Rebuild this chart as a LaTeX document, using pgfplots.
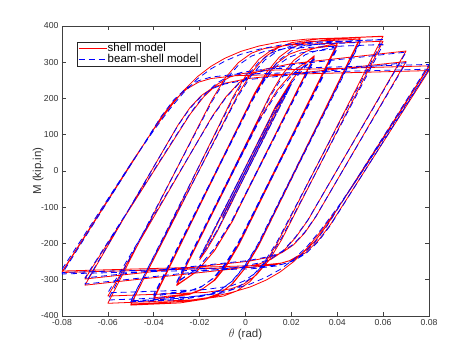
\documentclass[border=0pt]{standalone}
\usepackage{pgfplots}
\pgfplotsset{compat=1.18}
\usepackage{pgfplotstable}
\usepackage{fontspec}
\setmainfont{Liberation Sans}

% t = rotation (rad), s = shell model M, b = beam-shell model M (kip.in)
\pgfplotstableread{
t s b
0 0 0
0.01 128 125
-0.01 -128 -125
0.01 128 125
-0.01 -128 -125
0.0156 198 193
0.02 245 239
-0.0123 -167 -163
-0.0169 -217 -212
-0.02 -245 -239
0.0123 167 163
0.0169 217 212
0.02 245 239
-0.0123 -167 -163
-0.0169 -217 -212
-0.02 -245 -239
0.0131 178 174
0.0202 251 245
0.0273 304 296
0.03 318 310
-0.006 -141 -137
-0.0137 -221 -215
-0.0214 -278 -271
-0.03 -316 -308
0.006 142 138
0.0137 222 216
0.0214 279 272
0.03 315 307
-0.0058 -140 -137
-0.0135 -220 -214
-0.0212 -277 -270
-0.03 -314 -306
0.0108 211 206
0.0159 265 258
0.021 305 297
0.0261 329 321
0.0312 341 332
0.04 352 343
-0.0032 -203 -198
-0.0086 -261 -254
-0.014 -303 -295
-0.0193 -328 -320
-0.0247 -341 -332
-0.04 -354 -345
0.0029 198 193
0.0082 255 249
0.0136 297 290
0.019 322 314
0.0243 334 326
0.04 347 338
-0.0027 -202 -197
-0.008 -259 -253
-0.0133 -301 -293
-0.0187 -325 -317
-0.024 -338 -330
-0.04 -350 -341
0.0038 213 208
0.0092 272 265
0.0147 314 306
0.0202 340 332
0.0256 353 344
0.0366 363 354
0.05 368 359
0.0051 -210 -205
-0.0005 -270 -263
-0.0061 -313 -305
-0.0117 -340 -332
-0.0173 -353 -344
-0.0286 -364 -355
-0.05 -370 -361
-0.0054 205 200
0.0002 264 257
0.0058 308 300
0.0114 334 326
0.017 347 338
0.0281 357 348
0.05 364 355
0.0056 -208 -203
0.0 -267 -260
-0.0056 -311 -303
-0.0111 -337 -329
-0.0167 -350 -341
-0.0278 -360 -351
-0.05 -367 -358
-0.0033 211 206
0.0025 270 263
0.0084 314 306
0.0142 340 332
0.02 354 345
0.0317 364 355
0.06 372 363
0.0136 -202 -197
0.0078 -262 -255
0.002 -305 -297
-0.0038 -331 -323
-0.0096 -345 -336
-0.0212 -355 -346
-0.06 -365 -356
-0.0145 198 193
-0.0088 257 251
-0.0031 299 292
0.0026 325 317
0.0083 338 330
0.0197 348 339
0.06 358 349
0.0158 -189 -184
0.0103 -246 -240
0.0047 -287 -280
-0.0008 -312 -304
-0.0063 -325 -317
-0.0174 -335 -327
-0.06 -345 -336
-0.0144 152 150
-0.0086 204 202
-0.0029 243 241
0.0028 268 265
0.0085 281 278
0.0199 296 293
0.07 331 328
0.0272 -136 -135
0.0218 -184 -182
0.0165 -221 -219
0.0111 -244 -242
0.0058 -257 -254
-0.005 -270 -267
-0.07 -315 -312
-0.0294 127 126
-0.0243 174 172
-0.0193 208 206
-0.0142 230 228
-0.0091 242 240
0.0011 255 252
0.07 302 299
0.0307 -126 -125
0.0258 -171 -169
0.0209 -204 -202
0.016 -225 -223
0.0111 -237 -235
0.0013 -249 -247
-0.07 -298 -295
-0.0241 157 159
-0.0183 204 207
-0.0126 238 242
-0.0069 259 263
-0.0011 269 273
0.0104 278 282
0.08 290 294
0.0356 -149 -151
0.0301 -195 -198
0.0246 -228 -231
0.019 -248 -252
0.0135 -258 -262
0.0024 -266 -270
-0.08 -280 -284
-0.0367 149 151
-0.0313 193 196
-0.0259 225 228
-0.0205 245 249
-0.0151 255 259
-0.0042 263 267
0.08 277 281
0.037 -148 -150
0.0317 -192 -195
0.0263 -225 -228
0.0209 -244 -248
0.0156 -254 -258
0.0048 -261 -265
-0.08 -276 -280
nan nan nan
0.08 288 281
0.05 -10 -10
0.04 -105 -102
0.033 -165 -161
0.027 -212 -207
0.021 -250 -244
0.015 -279 -272
0.009 -301 -293
0.002 -320 -312
-0.006 -335 -327
-0.015 -348 -339
-0.027 -359 -350
-0.05 -370 -361
nan nan nan
-0.08 -278 -271
-0.05 20 20
-0.04 115 112
-0.033 175 171
-0.027 222 216
-0.021 260 254
-0.015 289 282
-0.009 311 303
-0.002 330 322
0.006 345 336
0.015 356 347
0.027 364 355
0.06 371 362
}\hyst

\begin{document}
\begin{tikzpicture}
\path[use as bounding box] (0,0) rectangle (474pt,355pt);
\begin{axis}[
  at={(62pt,39pt)}, anchor=south west,
  scale only axis, width=367pt, height=290pt,
  xmin=-0.08, xmax=0.08, ymin=-400, ymax=400,
  unbounded coords=jump,
  scaled x ticks=false, scaled y ticks=false,
  xtick={-0.08,-0.06,-0.04,-0.02,0,0.02,0.04,0.06,0.08},
  xticklabels={-0.08,-0.06,-0.04,-0.02,0,0.02,0.04,0.06,0.08},
  ytick={-400,-300,-200,-100,0,100,200,300,400},
  yticklabels={-400,-300,-200,-100,0,100,200,300,400},
  tick align=inside,
  xtick pos=both, ytick pos=both,
  xticklabel pos=lower, yticklabel pos=left,
  major tick length=4pt,
  axis line style={black!75, line width=0.6pt},
  every tick/.style={black!75, line width=0.6pt},
  tick label style={font=\fontsize{8.7}{10}\selectfont, text=black!80},
  xlabel={$\theta$ (rad)},
  ylabel={M (kip.in)},
  label style={font=\fontsize{11.5}{12}\selectfont, text=black!80},
  xlabel style={at={(axis description cs:0.5,0)}, anchor=north, yshift=-10pt},
  ylabel style={at={(axis description cs:-0.065,0.5)}, anchor=center},
  legend style={at={(0.041,0.946)}, anchor=north west,
    font=\fontsize{11.5}{11.5}\selectfont, draw=black!85, line width=0.6pt,
    inner sep=1pt, row sep=0pt,
    nodes={inner sep=0.6pt}},
  legend cell align=left,
  legend image code/.code={\draw[#1] (0pt,0pt) -- (28pt,0pt);},
]
\addplot[red, line width=0.8pt, line join=round] table[x=t, y=s]{\hyst};
\addlegendentry{shell model}
\addplot[blue, line width=0.8pt, line join=round, dash pattern=on 6pt off 4pt] table[x=t, y=b]{\hyst};
\addlegendentry{beam-shell model}
\end{axis}
\end{tikzpicture}
\end{document}
